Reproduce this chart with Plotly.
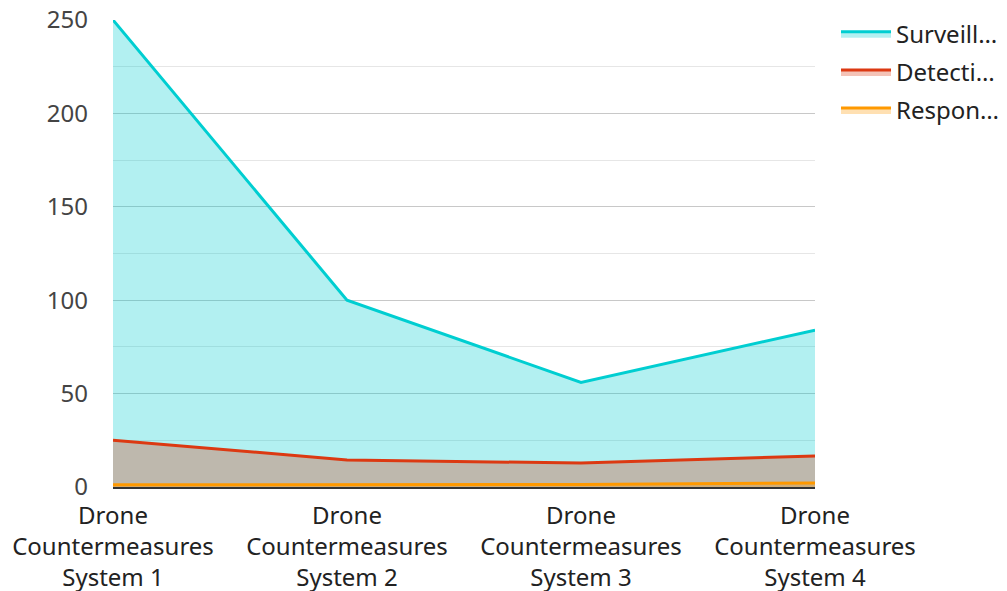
import plotly.graph_objects as go

categories = ["Drone<br>Countermeasures<br>System 1", "Drone<br>Countermeasures<br>System 2",
              "Drone<br>Countermeasures<br>System 3", "Drone<br>Countermeasures<br>System 4"]
series_names = ["Surveill…", "Detecti…", "Respon…"]
surveillance = [250, 100, 56, 84]
detection = [25, 14.5, 12.8, 16.6]
response = [1.2, 1.2, 1.3, 2.2]

line_colors = ["rgb(0,206,209)", "rgb(220,57,18)", "rgb(255,153,0)"]
fill_colors = ["rgba(0,206,209,0.3)", "rgba(220,57,18,0.3)", "rgba(255,153,0,0.3)"]

x = list(range(len(categories)))
fig = go.Figure()
for name, vals, lc, fc in zip(series_names, [surveillance, detection, response], line_colors, fill_colors):
    fig.add_trace(go.Scatter(x=x, y=vals, name=name, mode="lines", fill="tozeroy", legendgroup=name,
                             line=dict(color=lc, width=3), fillcolor=fc))

font = dict(family="Noto Sans, Open Sans, sans-serif", size=24, color="#444")
fig.update_layout(
    width=1007, height=591, margin=dict(l=113, r=192, t=20, b=104),
    paper_bgcolor="white", plot_bgcolor="white", font=font,
    showlegend=True,
    legend=dict(xref="container", x=0.8302, y=1.018, xanchor="left", yanchor="top",
                font=dict(size=24, color="#222"),
                traceorder="grouped", tracegroupgap=4, itemwidth=50),
)
fig.update_xaxes(range=[0, 3], tickvals=x, ticktext=categories, showgrid=False, automargin=False,
                 showline=True, linecolor="#333", linewidth=2, ticks="", zeroline=False,
                 ticklabelstandoff=6, tickfont=dict(size=24, color="#222"))
fig.update_yaxes(range=[0, 250], dtick=50, showgrid=True, gridcolor="#c8c8c8", gridwidth=1, automargin=False,
                 minor=dict(dtick=25, showgrid=True, gridcolor="#e6e6e6"),
                 zeroline=False, showline=False, ticks="", ticklabelstandoff=24,
                 tickfont=dict(size=24, color="#444"))
fig.write_html("out.html", config={"displayModeBar": False},
               post_script="document.body.style.margin='0';")
